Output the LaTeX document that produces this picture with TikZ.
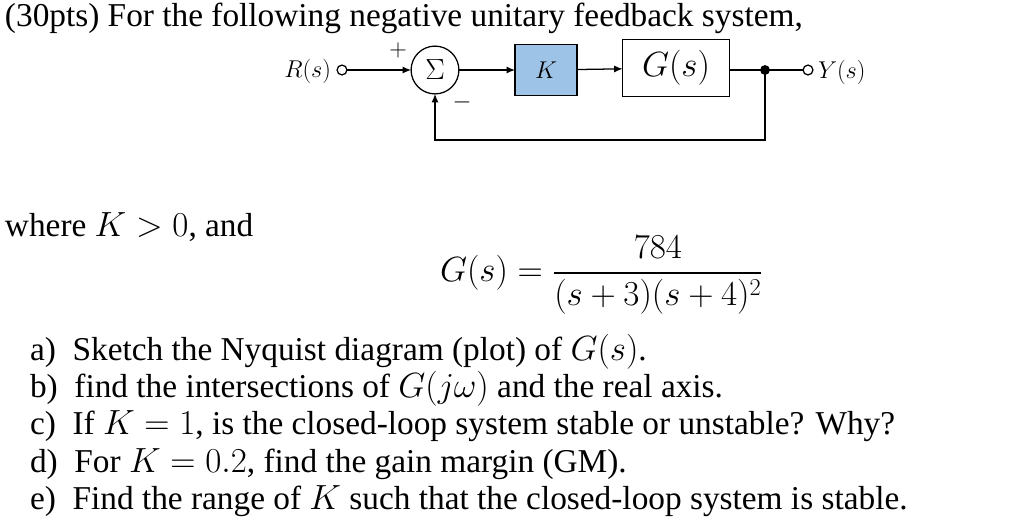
\documentclass[tikz,border=0pt]{standalone}
\usepackage{amsmath}
\usepackage{fontspec}
\setmainfont{Liberation Serif}
\usetikzlibrary{positioning,arrows.meta}
\definecolor{kblue}{RGB}{157,195,230}

\begin{document}
\begin{tikzpicture}[x=0.025cm,y=-0.025cm]
\tikzset{inner sep=0pt, outer sep=0pt}
\tikzset{line/.style={line width=0.9pt}, arr/.style={line, -{Latex[length=6pt,width=5pt]}},
  txt/.style={anchor=base west, font=\fontsize{23.7}{28}\selectfont},
  small/.style={font=\fontsize{16.5}{18}\selectfont}}
\useasboundingbox (0,0) rectangle (1024,529);

\node [txt] (title) at (5,26) {(30pts) For the following negative unitary feedback system,};

% block diagram
\node [small, anchor=east] (R) at (331,71) {$R(s)$};
\node [draw, circle, line, minimum size=7pt] (in) at (342,70) {};
\node [draw, circle, line, minimum size=34pt, font=\fontsize{20}{22}\selectfont] (sum) at (435,70) {$\Sigma$};
\node [draw, line, fill=kblue, minimum width=44pt, minimum height=36pt, small] (K) at (546,70) {$K$};
\node [draw, line, minimum width=76pt, minimum height=41pt, font=\fontsize{23}{25}\selectfont] (G) at (676,68) {$G(s)$};
\coordinate (split) at (765,70);
\node [draw, circle, line, minimum size=7pt] (out) at (808,70) {};
\node [small, anchor=west] (Y) at (818,72) {$Y(s)$};
\coordinate (fb) at (765,140);
\coordinate (fbl) at (435,140);
\node [small] (plus) at (398,50) {$+$};
\node [small] (minus) at (462,102) {$-$};

\draw [arr] (in) -- (sum);
\draw [arr] (sum) -- (K);
\draw [arr] (K) -- (G);
\draw [line] (G.east |- split) -- (out);
\fill (split) circle (3.5pt);
\draw [arr] (split) -- (fb) -- (fbl) -- (sum);

\node [txt] (where) at (5,236) {where $K>0$, and};
\node [txt, anchor=west] (eq) at (440,275) {$G(s)=\dfrac{784}{(s+3)(s+4)^2}$};

\node [txt] (a) at (30,360) {a)\ \ Sketch the Nyquist diagram (plot) of $G(s)$.};
\node [txt] (b) at (30,397) {b)\ \ find the intersections of $G(j\omega)$ and the real axis.};
\node [txt] (c) at (30,434) {c)\ \ If $K=1$, is the closed-loop system stable or unstable? Why?};
\node [txt] (d) at (30,472) {d)\ \ For $K=0.2$, find the gain margin (GM).};
\node [txt] (e) at (30,509) {e)\ \ Find the range of $K$ such that the closed-loop system is stable.};
\end{tikzpicture}
\end{document}
